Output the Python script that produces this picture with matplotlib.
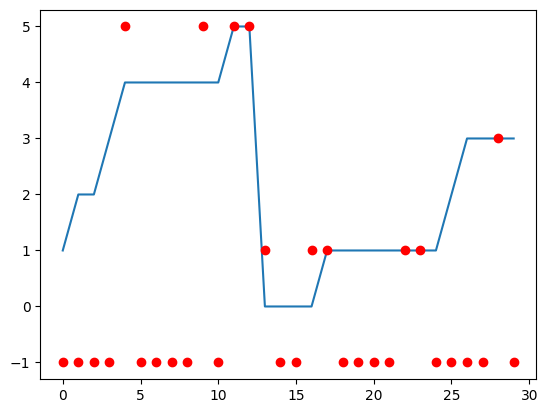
import matplotlib
matplotlib.use("Agg")
import matplotlib.pyplot as plt

x = list(range(30))
line_values = [1, 2, 2, 3, 4, 4, 4, 4, 4, 4, 4, 5, 5, 0, 0, 0, 0, 1, 1, 1, 1, 1, 1, 1, 1, 2, 3, 3, 3, 3]
dot_values = [-1, -1, -1, -1, 5, -1, -1, -1, -1, 5, -1, 5, 5, 1, -1, -1, 1, 1, -1, -1, -1, -1, 1, 1, -1, -1, -1, -1, 3, -1]

fig, ax = plt.subplots(figsize=(6.4, 4.8), dpi=100)
ax.plot(x, line_values)
ax.plot(x, dot_values, 'ro')
fig.savefig("out.png", dpi=100, bbox_inches='tight')
